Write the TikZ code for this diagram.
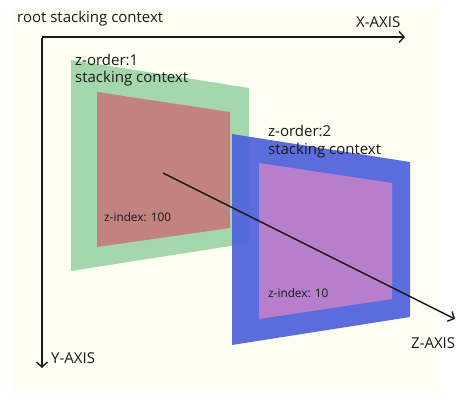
\documentclass[tikz,border=0pt]{standalone}
\usepackage{fontspec}
\setmainfont{Open Sans}
\usetikzlibrary{arrows.meta}
\definecolor{bgcream}{HTML}{FDFDF1}
\definecolor{gfill}{HTML}{A4D7AC}
\definecolor{rfill}{HTML}{C2827E}
\definecolor{bfill}{HTML}{4F63DC}
\definecolor{pfill}{HTML}{B77FCB}
\definecolor{ink}{HTML}{1A1A1A}
\begin{document}
\begin{tikzpicture}[x=1pt,y=-1pt,
  axis/.style={line width=1.4pt,draw=ink,-{Straight Barb[length=5pt,width=11pt,line width=1.4pt]}},
  lbl/.style={anchor=base west,inner sep=0pt,text=ink,font=\fontsize{15}{17}\selectfont},
  small/.style={anchor=base west,inner sep=0pt,text=ink,font=\fontsize{11.8}{13}\selectfont}]
\useasboundingbox (0,0) rectangle (474,401);
\fill[white] (0,0) rectangle (474,401);
\fill[bgcream] (12,8) rectangle (440,393);
% green / red context
\fill[gfill] (71,60) -- (249,88) -- (249,243) -- (71,271) -- cycle;
\fill[rfill] (97,92) -- (230,112) -- (230,228) -- (97,247) -- cycle;
% blue / purple context
\fill[bfill,fill opacity=0.93] (232,134) -- (410,162) -- (410,317) -- (232,345) -- cycle;
\fill[pfill] (259,163) -- (392,183) -- (392,299) -- (259,319) -- cycle;
% axes
\coordinate (o) at (42,37);
\coordinate (xe) at (405,37);
\coordinate (ye) at (42,368);
\coordinate (zs) at (163,173);
\coordinate (ze) at (455,319);
\draw[axis] (o) -- (xe);
\draw[axis] ([yshift=-0.7pt]o) -- (ye);
\draw[axis] (zs) -- (ze);
% labels
\node[lbl] (root) at (17,23) {root stacking context};
\node[lbl] (xl) at (356,28) {X-AXIS};
\node[lbl] (yl) at (51,363) {Y-AXIS};
\node[lbl] (zl) at (411,348) {Z-AXIS};
\node[lbl] (zo1) at (75,66) {z-order:1};
\node[lbl] (sc1) at (75,83) {stacking context};
\node[lbl] (zo2) at (268,137) {z-order:2};
\node[lbl] (sc2) at (268,154) {stacking context};
\node[small] (zi1) at (104,222) {z-index: 100};
\node[small] (zi2) at (268,297) {z-index: 10};
\end{tikzpicture}
\end{document}
